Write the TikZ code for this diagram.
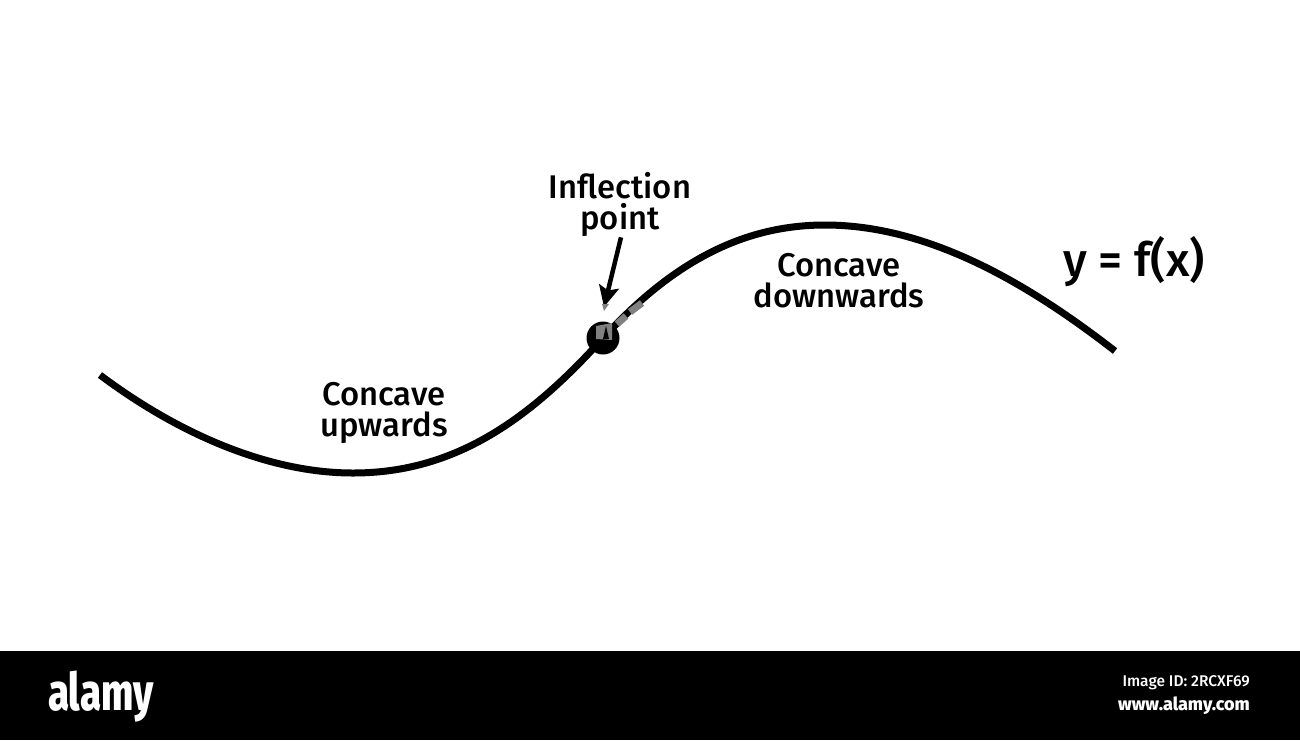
\documentclass[tikz,border=0pt]{standalone}
\usepackage{fontspec}
\setmainfont{Fira Sans Medium}
\usepackage{tikz}
\usetikzlibrary{arrows.meta}
\definecolor{stampgrey}{gray}{0.5}

\begin{document}
\begin{tikzpicture}[x=1pt,y=-1pt,
    curve/.style={line width=7pt, line join=round},
    label/.style={font=\fontsize{32.8}{31}\selectfont, align=center, inner sep=0pt},
    footer/.style={text=white, inner sep=0pt, anchor=east},
    >={Stealth[length=21pt,width=20pt,inset=4pt]}]

  \useasboundingbox (0,0) rectangle (1300,740);
  \fill[black] (0,651) rectangle (1300,740);

  \coordinate (start) at (100,375);
  \coordinate (low) at (353,473);
  \coordinate (end) at (1115,351);
  \coordinate (high) at (825,225);
  \node[circle, fill=black, minimum size=33pt, inner sep=0pt] (P) at (603,338) {};

  \draw[curve] (start) .. controls (180,435) and (270,473) .. (low)
    .. controls (450,473) and (525,425) .. (P.center)
    .. controls (670,265) and (740,225) .. (high)
    .. controls (930,225) and (1030,285) .. (end);

  \node[label] (infl) at (620,204) {Inflection\\point};
  \node[label] (up) at (384,413) {Concave\\upwards};
  \node[label] (down) at (839,281) {Concave\\downwards};
  \node[label, font=\fontsize{47}{48}\selectfont] (fx) at (1134,262) {y = f(x)};

  \coordinate (tip) at (604,307);
  \draw[->, line width=4.5pt] (infl.south) ++(1,1) -- (tip);

  % grey bits of the stamp over the line
  \draw[stampgrey, line width=7pt] (617,324) -- (626,316);
  \draw[stampgrey, line width=7pt] (630,312) -- (642,303);
  \fill[stampgrey] (596,326) -- (612,323) -- (612,340) -- (596,339) -- cycle;
  \fill[black] (603,339) -- (606,326) -- (609,339) -- cycle;
  \fill[stampgrey] (602,304) -- (609,304) -- (604,311) -- cycle;

  \node[text=white, font=\fontsize{52}{52}\selectfont\bfseries, inner sep=0pt, xscale=.74] (logo) at (101,697) {alamy};
  \node[footer, font=\fontsize{15.5}{15}\selectfont] (id) at (1250,683) {Image ID: 2RCXF69};
  \node[footer, font=\fontsize{18}{17}\selectfont\bfseries] (web) at (1250,706) {www.alamy.com};
\end{tikzpicture}
\end{document}
